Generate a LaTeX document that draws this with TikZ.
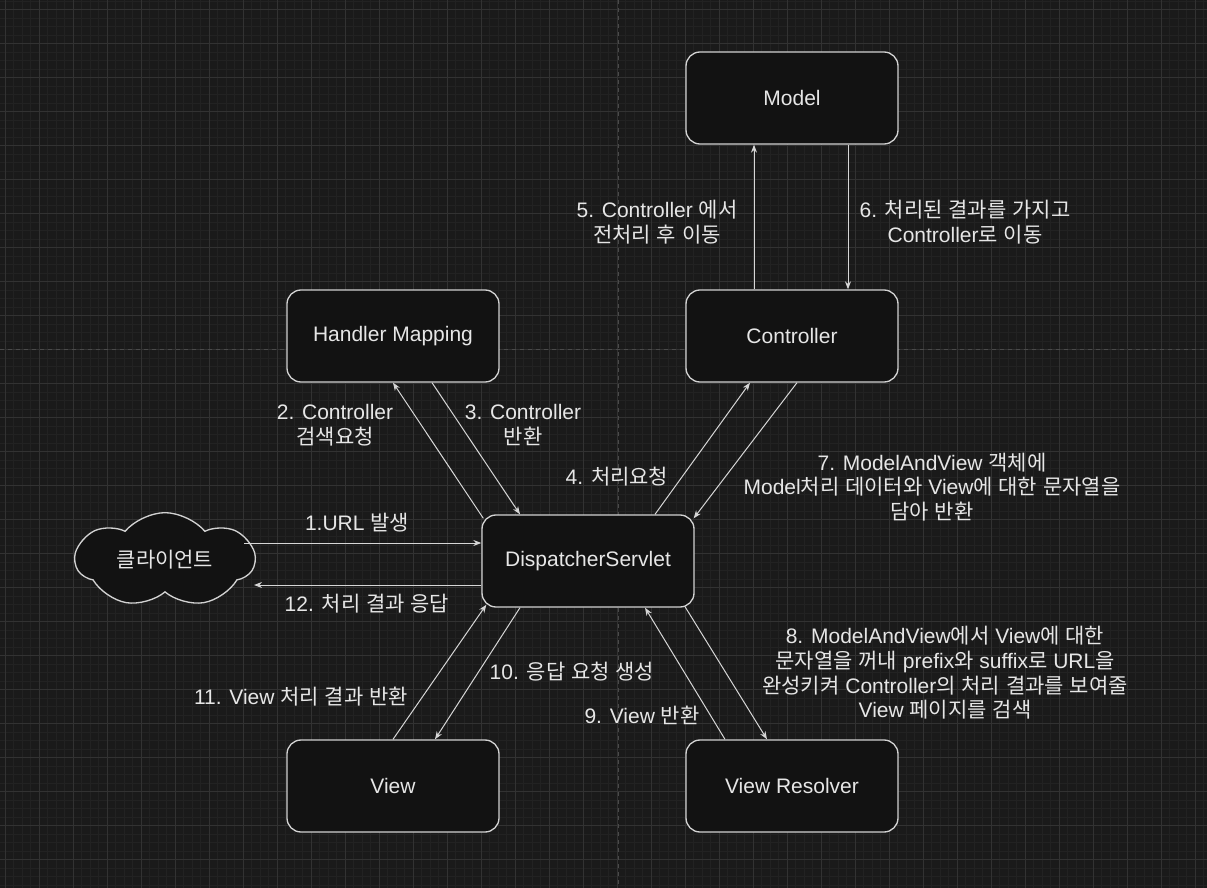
\documentclass[tikz,border=0pt]{standalone}
\usepackage{fontspec}
\setmainfont{Liberation Sans}
\newfontfamily\krfont{Noto Sans CJK KR}
\usetikzlibrary{arrows.meta,calc,shapes.symbols}
\XeTeXinterchartokenstate=1
\chardef\hgclass=7
\newcount\hgcount
\hgcount="AC00
\loop\XeTeXcharclass\hgcount=\hgclass\ifnum\hgcount<"D7A3\advance\hgcount by 1\repeat
\XeTeXinterchartoks 0 \hgclass={\krfont}
\XeTeXinterchartoks 4095 \hgclass={\krfont}
\XeTeXinterchartoks \hgclass 0={\rmfamily}
\XeTeXinterchartoks \hgclass 4095={\rmfamily}
\definecolor{cBg}{HTML}{1A1A1A}
\definecolor{cMinor}{HTML}{222222}
\definecolor{cMajor}{HTML}{323232}
\definecolor{cPage}{HTML}{4A4A4A}
\definecolor{cFill}{HTML}{121212}
\definecolor{cLine}{HTML}{D2D2D2}
\definecolor{cText}{HTML}{E6E6E6}
\definecolor{cArrow}{HTML}{D6D6D6}
\begin{document}
\begin{tikzpicture}[x=0.75pt,y=-0.75pt,font=\fontsize{15.75}{18.5}\selectfont,
 box/.style={draw=cLine,fill=cFill,rounded corners=10.5pt,minimum width=159pt,minimum height=69pt,line width=1pt,text=cText},
 lbl/.style={text=cText,align=center},
 arr/.style={draw=cArrow,line width=0.75pt,-{Stealth[length=6pt,width=4.5pt]}},
 minorline/.style={draw=cMinor,line width=0.4pt},majorline/.style={draw=cMajor,line width=0.6pt},
 pageline/.style={draw=cPage,line width=0.6pt,dash pattern=on 3pt off 3pt}]
\useasboundingbox (0,0) rectangle (1207,888);
\fill[cBg](0,0) rectangle (1207,888);
\foreach \k in {0,...,141}\draw[minorline]({5+8.5*\k},0)--({5+8.5*\k},888);
\foreach \k in {0,...,104}\draw[minorline](0,{0.8+8.5*\k})--(1207,{0.8+8.5*\k});
\foreach \k in {0,...,35}\draw[majorline]({5+34*\k},0)--({5+34*\k},888);
\foreach \k in {0,...,25}\draw[majorline](0,{9.3+34*\k})--(1207,{9.3+34*\k});
\draw[pageline](618,0)--(618,888)(0,349)--(1207,349);
\node[box](model)at(792,98){Model};
\node[box](ctrl)at(792,336){Controller};
\node[box](hm)at(393,336){Handler Mapping\vphantom{C}};
\node[box](ds)at(588,561){DispatcherServlet};
\node[box](view)at(393,786){View};
\node[box](vr)at(792,786){View Resolver};
\node[cloud,cloud puffs=7,cloud puff arc=100,aspect=2.1,draw=cLine,fill=cFill,line width=1pt,minimum width=134pt,minimum height=71pt,inner sep=0pt,text=cText](client)at(165,560){클라이언트};
\draw[arr]($(ctrl.north)+(-38,0)$)--($(model.south)+(-38,0)$);
\draw[arr]($(model.south)+(56,0)$)--($(ctrl.north)+(56,0)$);
\draw[arr]($(ds.north west)+(2,4)$)--(hm.south);
\draw[arr]($(hm.south)+(39,0)$)--($(ds.north)+(-68,0)$);
\draw[arr]($(ds.north)+(67,0)$)--($(ctrl.south)+(-42,0)$);
\draw[arr]($(ctrl.south)+(5,0)$)--($(ds.north east)+(-1,4)$);
\draw[arr](view.north)--($(ds.south west)+(5,-3)$);
\draw[arr]($(ds.south)+(-68,0)$)--($(view.north)+(42,0)$);
\draw[arr]($(vr.north)+(-67,0)$)--($(ds.south)+(57,0)$);
\draw[arr]($(ds.south)+(97,-1)$)--($(vr.north)+(-25,0)$);
\draw[arr]($(client.center)+(79,-17)$)--($(ds.west)+(0,-18)$);
\draw[arr]($(ds.west)+(0,24)$)--($(client.center)+(89,25)$);
\node[lbl](l5)at(657,222){5. Controller 에서\\전처리 후 이동};
\node[lbl](l6)at(965,222){6. 처리된 결과를 가지고\\Controller로 이동};
\node[lbl](l2)at(335,425){2. Controller\\검색요청};
\node[lbl](l3)at(523,425){3. Controller\\반환};
\node[lbl](l4)at(617,477){4. 처리요청};
\node[lbl](l7)at(932,487){7. ModelAndView 객체에\\Model처리 데이터와 View에 대한 문자열을\\담아 반환};
\node[lbl](l1)at(357,523){1.URL 발생};
\node[lbl](l12)at(367,604){12. 처리 결과 응답};
\node[lbl](l8)at(945,673){8. ModelAndView에서 View에 대한\\문자열을 꺼내 prefix와 suffix로 URL을\\완성키켜 Controller의 처리 결과를 보여줄\\View 페이지를 검색};
\node[lbl](l10)at(572,672){10. 응답 요청 생성};
\node[lbl](l11)at(301,697){11. View 처리 결과 반환};
\node[lbl](l9)at(642,715){9. View 반환};
\end{tikzpicture}
\end{document}
